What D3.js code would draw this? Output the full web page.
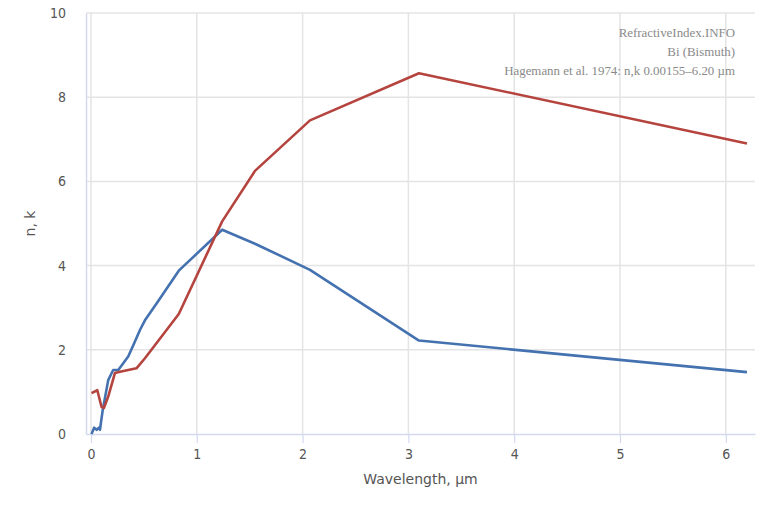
<!DOCTYPE html>
<html>
<head>
<meta charset="utf-8">
<script src="https://cdn.jsdelivr.net/npm/d3@7"></script>
<style>
  body { margin: 0; background: #fff; }
  svg { display: block; }
</style>
</head>
<body>
<div id="chart"></div>
<script>
// wavelength (µm) and n, k
const nWavelength = [0.005, 0.06, 0.10, 0.123, 0.163, 0.227, 0.274, 0.43, 0.51, 0.83, 1.24, 1.55, 2.07, 3.1, 6.2];
const nValues     = [0.97, 1.04, 0.64, 0.62, 0.89, 1.45, 1.48, 1.56, 1.8, 2.85, 5.05, 6.25, 7.45, 8.57, 6.9];

const kWavelength = [0.005, 0.03, 0.054, 0.075, 0.085, 0.11, 0.163, 0.21, 0.258, 0.352, 0.40, 0.463, 0.51, 0.62, 0.83, 1.24, 1.55, 2.07, 3.1, 6.2];
const kValues     = [0.0, 0.15, 0.1, 0.15, 0.1, 0.55, 1.28, 1.52, 1.52, 1.84, 2.11, 2.47, 2.7, 3.1, 3.88, 4.85, 4.52, 3.9, 2.22, 1.47];

const xTicks = [0, 1, 2, 3, 4, 5, 6];
const yTicks = [0, 2, 4, 6, 8, 10];
const infoLines = ['RefractiveIndex.INFO', 'Bi (Bismuth)', 'Hagemann et al. 1974: n,k 0.00155\u20136.20 \u00b5m'];

const width = 768, height = 512;
const plot = { left: 86, right: 755, top: 13, bottom: 434 };

const svg = d3.select('#chart')
  .append('svg')
  .attr('width', width)
  .attr('height', height);

const x = d3.scaleLinear().domain([-0.047, 6.276]).range([plot.left, plot.right]);
const y = d3.scaleLinear().domain([0, 10]).range([plot.bottom, plot.top]);

// Gridlines
svg.append('g')
  .selectAll('line')
  .data(yTicks.filter(d => d > 0))
  .join('line')
  .attr('x1', plot.left).attr('x2', plot.right)
  .attr('y1', d => y(d)).attr('y2', d => y(d))
  .attr('stroke', '#e4e4e4').attr('stroke-width', 1.5);

svg.append('g')
  .selectAll('line')
  .data(xTicks)
  .join('line')
  .attr('x1', d => x(d)).attr('x2', d => x(d))
  .attr('y1', plot.top).attr('y2', plot.bottom)
  .attr('stroke', '#e4e4e4').attr('stroke-width', 1.5);

// x axis
const xAxis = svg.append('g')
  .attr('transform', `translate(0,${plot.bottom})`)
  .call(d3.axisBottom(x).tickValues(xTicks).tickFormat(d3.format('d'))
    .tickSize(9).tickPadding(6).tickSizeOuter(0));
xAxis.select('.domain').attr('stroke', '#d3daf0').attr('stroke-width', 1.5);
xAxis.selectAll('.tick line').attr('stroke', '#d3daf0').attr('stroke-width', 1.2);
xAxis.selectAll('.tick text')
  .attr('fill', '#555')
  .style('font-family', 'DejaVu Sans Condensed, DejaVu Sans, sans-serif')
  .style('font-size', '14px');

// y axis
const yAxis = svg.append('g')
  .attr('transform', `translate(${plot.left},0)`)
  .call(d3.axisLeft(y).tickValues(yTicks).tickFormat(d3.format('d'))
    .tickSize(0).tickPadding(20).tickSizeOuter(0));
yAxis.select('.domain').attr('stroke', '#d3daf0').attr('stroke-width', 1.5);
yAxis.selectAll('.tick text')
  .attr('fill', '#555')
  .style('font-family', 'DejaVu Sans Condensed, DejaVu Sans, sans-serif')
  .style('font-size', '14px');

// Axis titles
svg.append('text')
  .attr('x', (plot.left + plot.right) / 2)
  .attr('y', 484)
  .attr('text-anchor', 'middle')
  .attr('fill', '#555')
  .style('font-family', 'DejaVu Sans, sans-serif')
  .style('font-size', '14px')
  .text('Wavelength, \u00b5m');

svg.append('text')
  .attr('transform', `translate(35,${(plot.top + plot.bottom) / 2}) rotate(-90)`)
  .attr('text-anchor', 'middle')
  .attr('fill', '#555')
  .style('font-family', 'DejaVu Sans, sans-serif')
  .style('font-size', '14px')
  .text('n, k');

// Series
const line = d3.line().x(d => x(d[0])).y(d => y(d[1]));

svg.append('path')
  .datum(d3.zip(kWavelength, kValues))
  .attr('fill', 'none')
  .attr('stroke', '#4472b0')
  .attr('stroke-width', 2.6)
  .attr('stroke-linejoin', 'round')
  .attr('d', line);

svg.append('path')
  .datum(d3.zip(nWavelength, nValues))
  .attr('fill', 'none')
  .attr('stroke', '#b5443f')
  .attr('stroke-width', 2.6)
  .attr('stroke-linejoin', 'round')
  .attr('d', line);

// Info text
svg.append('g')
  .selectAll('text')
  .data(infoLines)
  .join('text')
  .attr('x', 735)
  .attr('y', (d, i) => 37 + i * 19)
  .attr('text-anchor', 'end')
  .attr('fill', '#8a8a8a')
  .style('font-family', 'Liberation Serif, serif')
  .style('font-size', '12.9px')
  .text(d => d);
</script>
</body>
</html>
